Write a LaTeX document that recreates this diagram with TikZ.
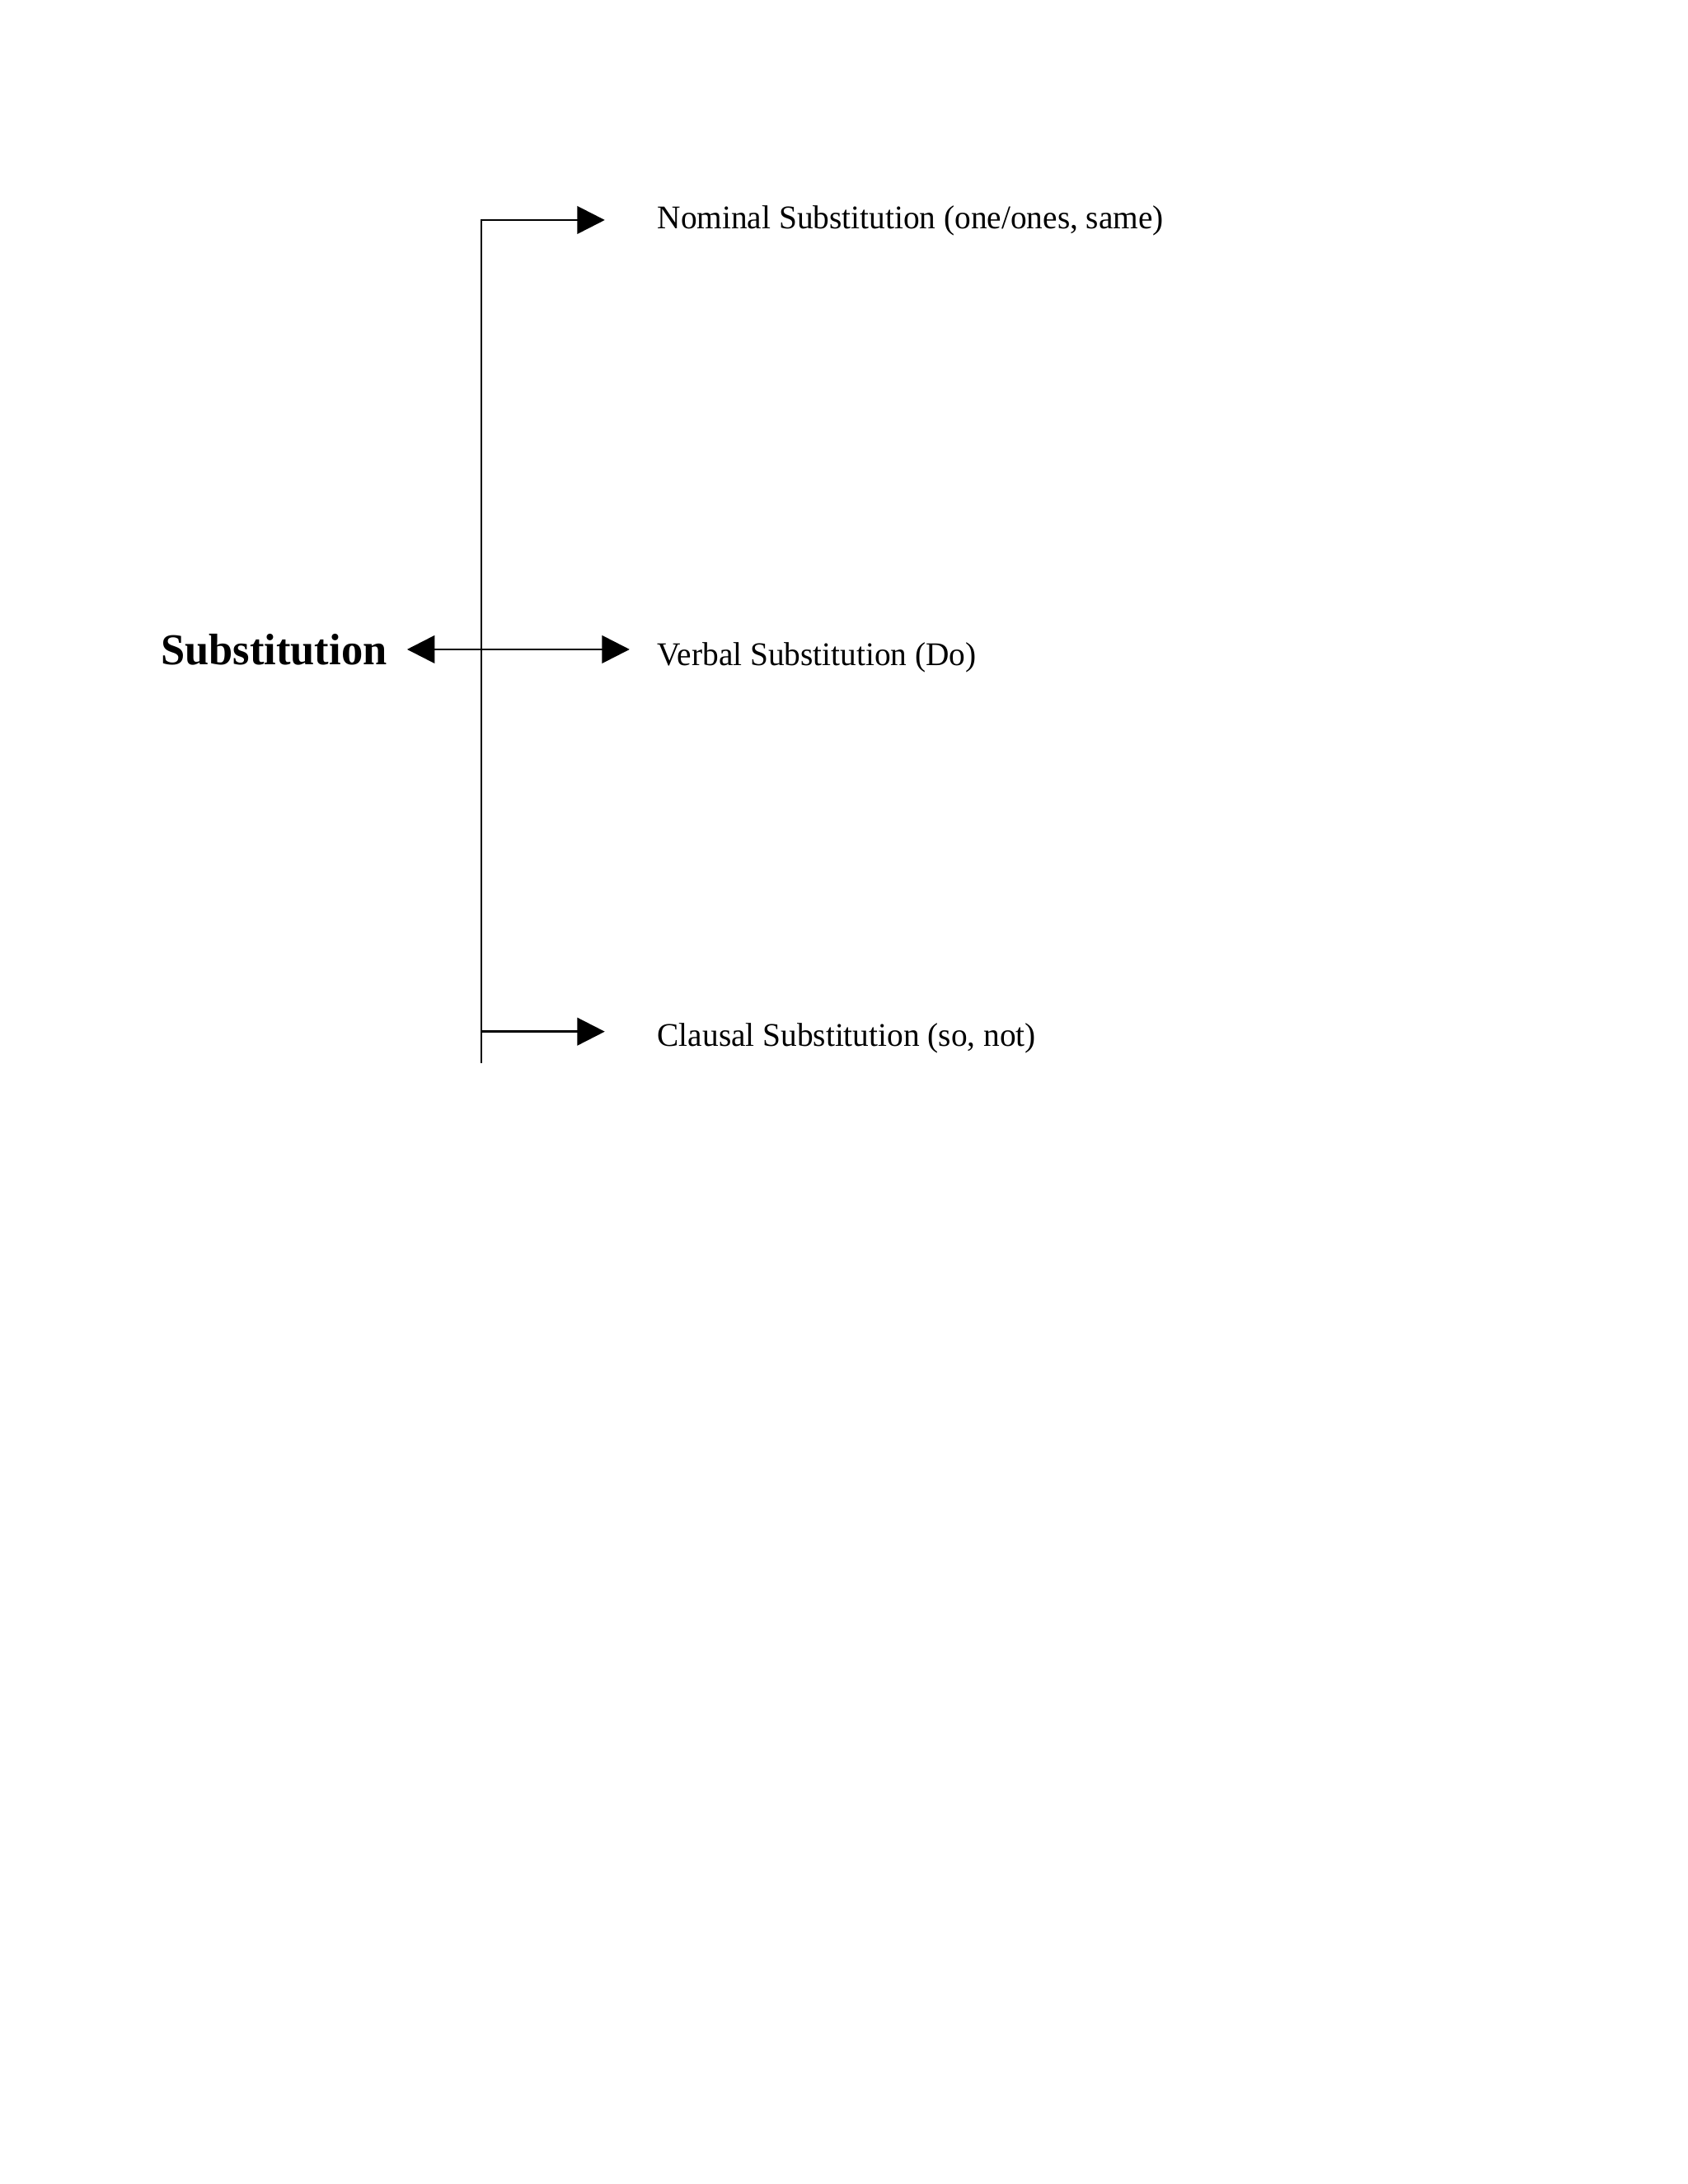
\documentclass[tikz,border=0pt]{standalone}
\usepackage{fontspec}
\setmainfont{Liberation Serif}[FakeStretch=0.98]
\usetikzlibrary{arrows.meta}

\begin{document}
\begin{tikzpicture}[x=1pt,y=1pt,
    arr/.style={-{Triangle[length=10pt,width=10pt]}, line width=0.8pt},
    item/.style={anchor=base west, inner sep=0, font=\fontsize{12}{14}\selectfont}]
    \useasboundingbox (0,0) rectangle (612,792);
    \coordinate (top) at (174.5,712.2);
    \coordinate (mid) at (174.5,556.5);
    \coordinate (bot) at (174.5,417.9);
    \coordinate (end) at (174.5,406.5);
    \coordinate (nomtip) at (219.3,712.2);
    \coordinate (verbtip) at (228.3,556.5);
    \coordinate (clautip) at (219.3,417.9);
    \node[anchor=east, inner sep=0, font=\fontsize{16}{19}\selectfont\bfseries] (subst) at (140.5,556.5) {Substitution};
    \node[item] (nom) at (238.2,709.2) {Nominal Substitution (one/ones, same)};
    \node[item] (verb) at (238.2,550.8) {Verbal Substitution (Do)};
    \node[item] (claus) at (238.2,412.5) {Clausal Substitution (so, not)};
    \draw[arr] (end) -- (top) -- (nomtip);
    \draw[arr] (mid) -- (verbtip);
    \draw[arr] (bot) -- (clautip);
    \draw[arr] (mid) -- ([xshift=7.1pt]subst.east);
\end{tikzpicture}
\end{document}
